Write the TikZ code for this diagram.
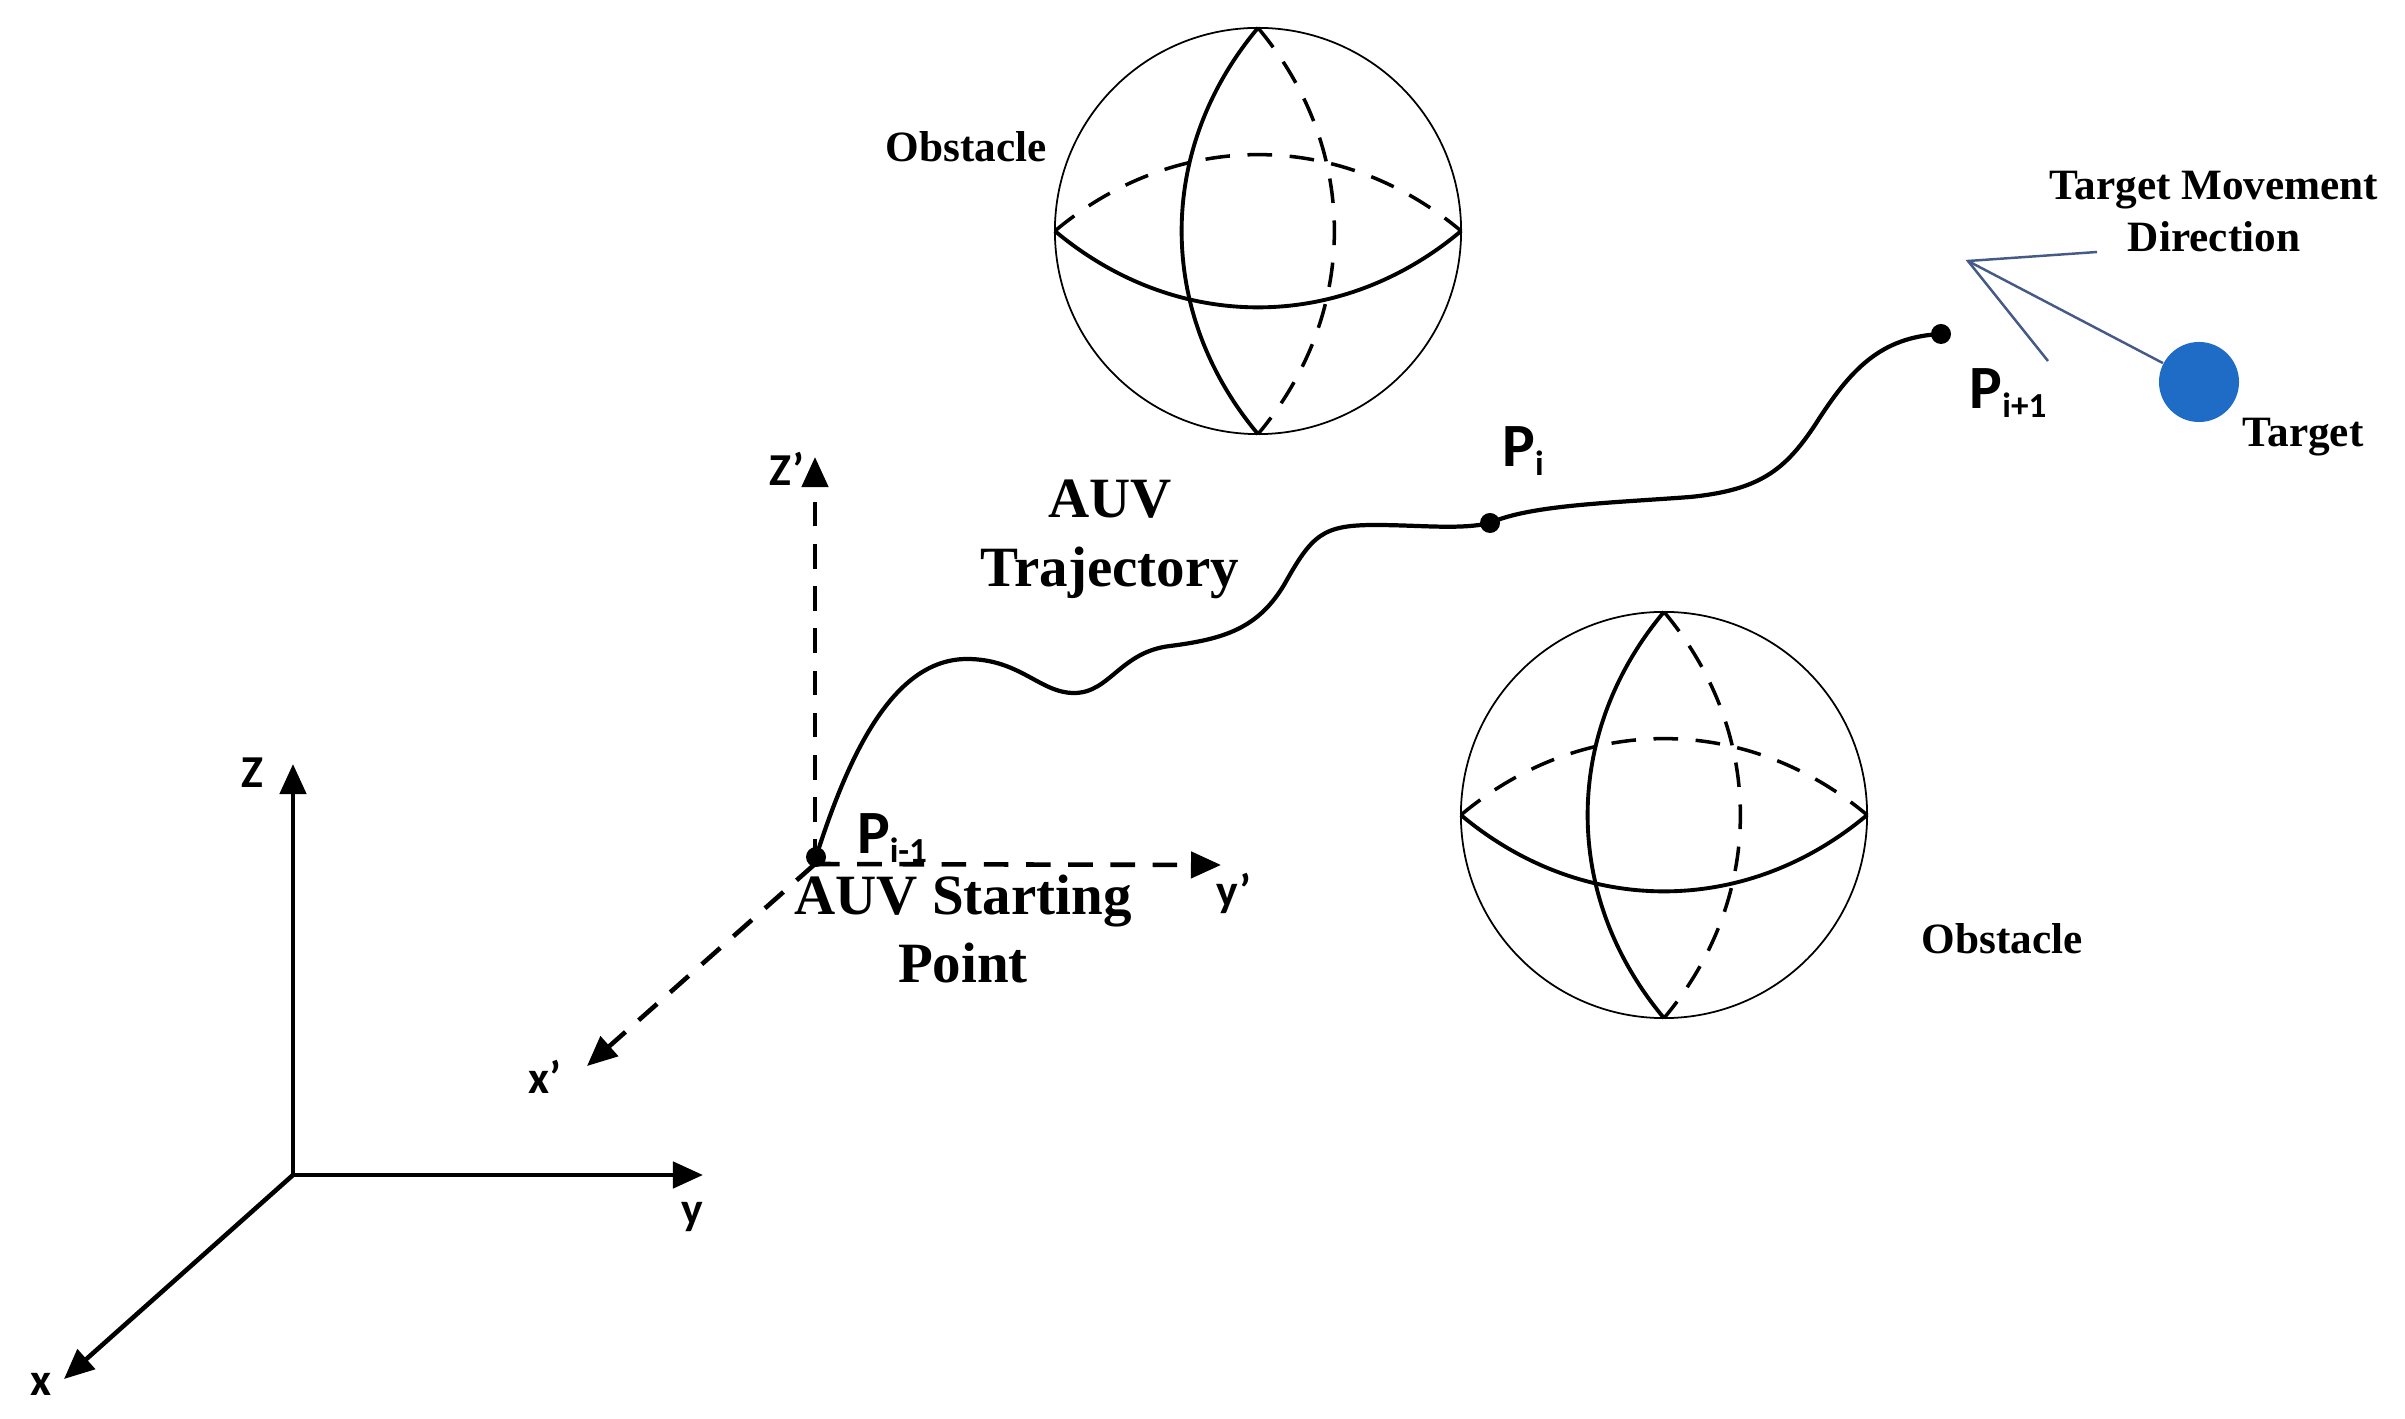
\documentclass[tikz,border=0pt]{standalone}
\usepackage{fontspec}
\setmainfont{Liberation Serif}
\newfontfamily\labelfont{Carlito}
\usetikzlibrary{arrows.meta}
\newcommand{\plabel}[1]{P\raisebox{-0.3ex}{\fontsize{10}{10}\selectfont #1}}
\definecolor{targetblue}{RGB}{31,108,198}
\definecolor{movecolor}{RGB}{70,90,135}
\tikzset{
    axis/.style={line width=1.3pt, -{Triangle[length=0.3cm,width=0.26cm]}},
    dashaxis/.style={axis, dash pattern=on 7pt off 5pt},
    obstaclecircle/.style={draw, circle, inner sep=0pt, outer sep=0pt, minimum size=4.06cm, line width=0.5pt},
    solidarc/.style={line width=1.1pt},
    dasharc/.style={line width=1pt, dash pattern=on 7pt off 5pt},
    bigtext/.style={font=\bfseries\fontsize{16.2}{19.6}\selectfont, align=center, inner sep=0pt},
    smalltext/.style={font=\bfseries\fontsize{12.3}{14.8}\selectfont, align=center, inner sep=0pt},
    axislabel/.style={font=\labelfont\bfseries\fontsize{13}{13}\selectfont, inner sep=0pt},
    pointlabel/.style={font=\labelfont\bfseries\fontsize{17.5}{17.5}\selectfont, inner sep=0pt},
    waydot/.style={fill=black, circle, inner sep=0pt, minimum size=0.2cm}
}
\begin{document}
\begin{tikzpicture}[x=0.01cm,y=-0.01cm]
    \useasboundingbox (0,0) rectangle (2405,1419);
    % fixed axes
    \coordinate (origin) at (293,1175);
    \coordinate (zend) at (293,764);
    \coordinate (yend) at (703,1175);
    \coordinate (xend) at (64,1379);
    \draw[axis] (origin) -- (zend);
    \draw[axis] (origin) -- (yend);
    \draw[axis] (origin) -- (xend);
    \node[axislabel] (zlabel) at (252,773) {Z};
    \node[axislabel] (ylabel) at (692,1217) {y};
    \node[axislabel] (xlabel) at (41,1384) {x};
    % axes at the starting point
    \coordinate (originb) at (815,864);
    \coordinate (zendb) at (815,457);
    \coordinate (yendb) at (1221,865);
    \coordinate (xendb) at (587,1066);
    \draw[dashaxis] (originb) -- (zendb);
    \draw[dashaxis] (originb) -- (yendb);
    \draw[dashaxis] (originb) -- (xendb);
    \node[axislabel] (zlabelb) at (787,469) {Z’};
    \node[axislabel] (ylabelb) at (1234,893) {y’};
    \node[axislabel] (xlabelb) at (545,1077) {x’};
    % obstacles
    \foreach \name/\cx/\cy in {obstaclea/1258/231, obstacleb/1664/815} {
        \node[obstaclecircle] (\name) at (\cx,\cy) {};
        \draw[solidarc] (\name.north) to[bend right=40] (\name.south);
        \draw[solidarc] (\name.west) to[bend right=40] (\name.east);
        \draw[dasharc] (\name.north) to[bend left=40] (\name.south);
        \draw[dasharc] (\name.west) to[bend left=40] (\name.east);
    }
    \node[smalltext] (obstaclealabel) at (966,147) {Obstacle};
    \node[smalltext] (obstacleblabel) at (2002,939) {Obstacle};
    % trajectory
    \node[waydot] (pstart) at (816,857) {};
    \node[waydot] (pmid) at (1490,523) {};
    \node[waydot] (pnext) at (1941,334) {};
    \draw[line width=1.2pt] (pstart.center) .. controls (850,750) and (895,659) .. (967,659)
        .. controls (1020,659) and (1040,693) .. (1074,693)
        .. controls (1110,693) and (1120,652) .. (1170,646)
        .. controls (1225,639) and (1258,628) .. (1284,585)
        .. controls (1312,535) and (1322,525) .. (1375,525)
        .. controls (1420,525) and (1460,530) .. (pmid.center)
        .. controls (1530,505) and (1610,503) .. (1690,497)
        .. controls (1760,490) and (1785,470) .. (1815,425)
        .. controls (1850,370) and (1880,337) .. (pnext.center);
    \node[pointlabel] (pstartlabel) at (892,838) {\plabel{i-1}};
    \node[pointlabel] (pmidlabel) at (1523,451) {\plabel{i}};
    \node[pointlabel] (pnextlabel) at (2008,393) {\plabel{i+1}};
    \node[bigtext] (trajectorylabel) at (1110,539) {AUV\\Trajectory};
    \node[bigtext] (startlabel) at (963,929) {AUV Starting\\Point};
    % target
    \node[circle, fill=targetblue, inner sep=0pt, minimum size=0.8cm] (target) at (2199,382) {};
    \coordinate (apex) at (1968,261);
    \coordinate (moveend) at (2097,252);
    \coordinate (moveendb) at (2048,361);
    \draw[movecolor, line width=0.7pt] (moveend) -- (apex) -- (moveendb);
    \draw[movecolor, line width=0.7pt] (apex) -- (target);
    \node[smalltext] (movelabel) at (2214,212) {Target Movement\\Direction};
    \node[smalltext] (targetlabel) at (2303,437) {Target};
\end{tikzpicture}
\end{document}
